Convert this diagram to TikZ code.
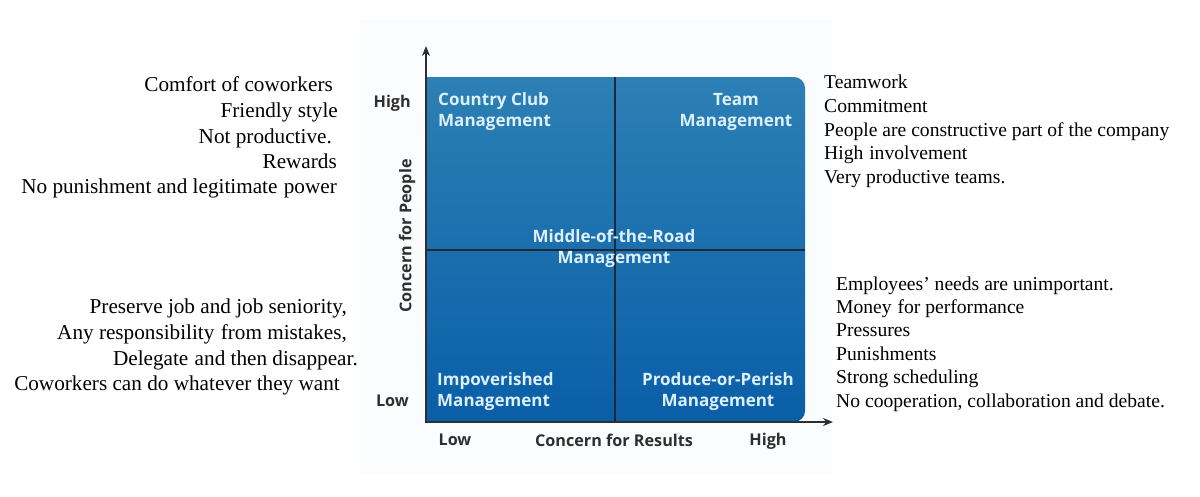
\documentclass[tikz,border=0pt]{standalone}
\usepackage{fontspec}
\setmainfont{Liberation Serif}
\newfontfamily\notefont{Liberation Serif}
\newfontfamily\labfont{Open Sans}
\usetikzlibrary{arrows.meta}
\definecolor{boxtop}{HTML}{2C80B4}
\definecolor{boxbot}{HTML}{0A5EA8}
\definecolor{divline}{HTML}{1C2A38}
\definecolor{axiscol}{HTML}{2F2F2F}
\definecolor{inlab}{HTML}{DDF0FF}
\definecolor{chartbg}{HTML}{FBFCFD}
\newcommand{\dsp}{\hspace{0.3em}}
\tikzset{
  noteRbase/.style={inner sep=0pt, font=\notefont\fontsize{21.2}{24}\selectfont, text=black},
  noteLbase/.style={inner sep=0pt, font=\notefont\fontsize{19.6}{24}\selectfont, text=black},
  noteR/.style={noteRbase, anchor=base east},
  noteL/.style={noteLbase, anchor=base west},
  axlab/.style={inner sep=0pt, font=\labfont\bfseries\fontsize{16.2}{20}\selectfont, text=axiscol},
  quad/.style={inner sep=0pt, font=\labfont\bfseries\fontsize{17}{21}\selectfont, text=inlab},
  axisline/.style={draw=axiscol, line width=2.4pt, -{Stealth[length=10pt,width=8pt]}},
  divider/.style={draw=divline, line width=1.8pt},
}
\begin{document}
\begin{tikzpicture}[x=1pt,y=-1pt]
\useasboundingbox (0,0) rectangle (1200,496);
% faint chart background
\fill[chartbg] (360,20) rectangle (832,475);
% blue box with rounded right corners
\shade[top color=boxtop, bottom color=boxbot, rounded corners=11pt] (427,77) rectangle (805,422);
\shade[top color=boxtop, bottom color=boxbot] (427,77) rectangle (700,422);
% dividers
\coordinate (vtop) at (615,77);
\coordinate (vbot) at (615,422);
\coordinate (hl) at (427,250);
\coordinate (hr) at (805,250);
\draw[divider] (vtop) -- (vbot);
\draw[divider] (hl) -- (hr);
% axes
\coordinate (origin) at (426,423);
\coordinate (ytip) at (426,46);
\coordinate (xstart) at (425,422);
\coordinate (xtip) at (833,422);
\draw[axisline] (origin) -- (ytip);
\draw[axisline] (xstart) -- (xtip);
% axis labels
\node[axlab, anchor=east] (yhigh) at (411,103) {High};
\node[axlab, anchor=east] (ylow) at (409,401) {Low};
\node[axlab, rotate=90] (ytitle) at (407,236) {Concern for People};
\node[axlab] (xlow) at (455,440) {Low};
\node[axlab] (xtitle) at (614,440) {Concern for Results};
\node[axlab] (xhigh) at (768,441) {High};
% quadrant labels
\node[quad, anchor=west, align=left] (cc) at (438,112) {Country Club\\Management};
\node[quad, align=center] (team) at (736,112) {Team\\Management};
\node[quad, align=center] (mid) at (614,249) {Middle-of-the-Road\\Management};
\node[quad, anchor=west, align=left] (imp) at (437,392) {Impoverished\\Management};
\node[quad, align=center] (prod) at (718,392) {Produce-or-Perish\\Management};
% left notes, top
\node[noteR] (l1) at (333,91) {Comfort of coworkers};
\node[noteR] (l2) at (338,117) {Friendly style};
\node[noteR] (l3) at (332,143) {Not productive.};
\node[noteR] (l4) at (337,168) {Rewards};
\node[noteR] (l5) at (337,193) {No punishment and legitimate\dsp power};
% left notes, bottom
\node[noteR] (b1) at (347,313) {Preserve job and job seniority,};
\node[noteR] (b2) at (347,339) {Any responsibility\dsp from mistakes,};
\node[noteR] (b3) at (358,365) {Delegate\dsp and then disappear.};
\node[noteR] (b4) at (340,390) {Coworkers can do whatever they want};
% right notes, top
\node[noteL] (r1) at (824,88) {Teamwork};
\node[noteL] (r2) at (824,112) {Commitment};
\node[noteL] (r3) at (824,136) {People are constructive part of the company};
\node[noteL] (r4) at (824,159) {High\dsp involvement};
\node[noteL] (r5) at (824,183) {Very productive teams.};
% right notes, bottom
\node[noteL] (s1) at (836,290) {Employees’ needs are unimportant.};
\node[noteL] (s2) at (836,313) {Money\dsp for performance};
\node[noteL] (s3) at (836,336) {Pressures};
\node[noteL] (s4) at (836,360) {Punishments};
\node[noteL] (s5) at (836,383) {Strong scheduling};
\node[noteL] (s6) at (836,407) {No cooperation, collaboration and debate.};
\end{tikzpicture}
\end{document}
